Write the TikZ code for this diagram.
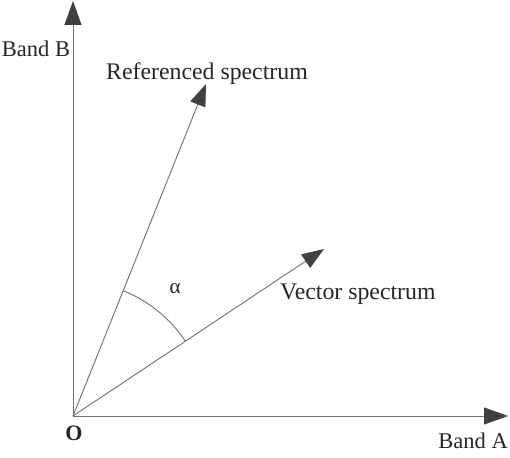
\documentclass[tikz,border=0pt]{standalone}
\usepackage{fontspec}
\setmainfont{Liberation Serif}
\usetikzlibrary{arrows.meta,positioning}
\definecolor{axisline}{RGB}{110,110,110}
\definecolor{tipgray}{RGB}{64,64,64}
\tikzset{
  axis/.style={draw=axisline, line width=0.9pt, -{Triangle[length=24pt, width=17pt, fill=tipgray, color=tipgray]}},
  vec/.style={draw=axisline, line width=0.9pt, -{Triangle[length=22pt, width=16pt, fill=tipgray, color=tipgray]}},
  angarc/.style={draw=axisline, line width=0.9pt},
  lbl/.style={font=\fontsize{22.5}{26}\selectfont, inner sep=0pt, text=black!85},
  biglbl/.style={lbl, font=\fontsize{23.8}{28}\selectfont}
}
\begin{document}
\begin{tikzpicture}[x=1pt, y=1pt]
    \useasboundingbox (0,0) rectangle (510,457);
    \coordinate (o) at (73,41);
    \coordinate (ytip) at (73,456);
    \coordinate (xtip) at (508,41);
    \coordinate (reftip) at (206,373);
    \coordinate (vectip) at (324,208);

    \draw[axis] (o) -- (ytip);
    \draw[axis] (o) -- (xtip);
    \draw[vec] (o) -- (reftip);
    \draw[vec] (o) -- (vectip);
    \draw[angarc] (o) ++(68.2:135) arc[start angle=68.2, end angle=33.6, radius=135];

    \node[lbl, anchor=base] (bandb) at (36,400) {Band B};
    \node[lbl, anchor=base east] (banda) at (508,9) {Band A};
    \node[biglbl, anchor=base west] (refname) at (106,377) {Referenced spectrum};
    \node[biglbl, anchor=base west] (vecname) at (280,157) {Vector spectrum};
    \node[lbl, anchor=base, font=\fontsize{22}{26}\selectfont\bfseries] (origin) at (74,17) {O};
    \node[lbl, font=\fontsize{21}{24}\selectfont] (alpha) at (175,168) {α};
\end{tikzpicture}
\end{document}
